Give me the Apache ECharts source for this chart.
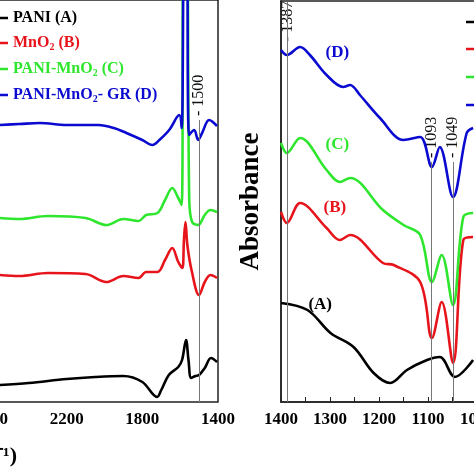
<!DOCTYPE html>
<html><head><meta charset="utf-8">
<script src="https://cdn.jsdelivr.net/npm/echarts@6/dist/echarts.min.js"></script>
<style>html,body{margin:0;padding:0;background:#fff}#c{width:474px;height:474px}</style>
</head><body><div id="c"></div>
<script>
// Left panel (2600-1400 cm-1): [wavenumber, offset absorbance (plot units, larger = lower)]
const leftA = [[2553,385],[2400,383],[2200,379],[2050,377],[1900,376],[1800,382],[1722,397],[1700,390],[1660,375],[1610,367],[1590,360],[1569,340],[1556,360],[1542,378],[1520,376],[1500,375],[1470,368],[1437,358],[1405,362]];
const leftB = [[2553,275],[2450,276],[2300,273],[2100,274],[1990,282],[1900,276],[1820,278],[1780,272],[1720,272],[1680,260],[1642,248],[1610,262],[1589,268],[1580,240],[1572,222],[1562,245],[1540,270],[1500,295],[1470,282],[1440,275],[1405,278]];
const leftC = [[2553,218],[2450,219],[2300,216],[2100,218],[1990,225],[1900,219],[1820,221],[1780,215],[1720,213],[1680,200],[1642,188],[1610,198],[1592,205],[1582,-60],[1565,-60],[1552,200],[1537,222],[1505,225],[1470,215],[1440,210],[1405,212]];
const leftD = [[2553,125],[2450,124],[2342,123],[2200,125],[2032,125],[1950,128],[1884,133],[1800,140],[1747,145],[1710,140],[1658,130],[1605,115],[1592,128],[1578,-60],[1565,-60],[1553,135],[1526,130],[1505,140],[1484,133],[1447,120],[1405,126]];
// Right panel (1400-1000 cm-1)
const rightA = [[1400,303],[1346,310],[1299,333],[1252,347],[1211,373],[1177,383],[1143,370],[1102,360],[1076,357],[1045,377],[1008,360]];
const rightB = [[1400,212],[1388,223],[1361,203],[1307,228],[1280,240],[1259,235],[1192,263],[1170,265],[1116,282],[1092,338],[1072,302],[1049,363],[1028,240],[1008,237]];
const rightC = [[1400,143],[1388,153],[1361,138],[1307,170],[1280,182],[1259,178],[1192,210],[1150,225],[1116,235],[1092,282],[1072,255],[1049,305],[1028,217],[1008,213]];
const rightD = [[1400,50],[1388,55],[1361,47],[1341,55],[1307,75],[1273,87],[1259,85],[1239,95],[1198,118],[1150,140],[1116,137],[1092,167],[1076,147],[1049,197],[1021,133],[1008,128]];
const names = ['PANI (A)','MnO2 (B)','PANI-MnO2 (C)','PANI-MnO2- GR (D)'];
const colors = ['#000000','#e8141c','#2ee62e','#0a0ad0'];
// [wavenumber, line top, label bottom, text]
const peaksLeft = [[1500,120,116,'- 1500']];
const peaksRight = [[1387,2,42,'- 1387'],[1093,162,158,'- 1093'],[1049,162,158,'- 1049']];
const curveTags = [['(A)',1320,305],['(B)',1290,208],['(C)',1285,145],['(D)',1285,53]];
const leftTicks = [2600,2200,1800,1400];

const ch = echarts.init(document.getElementById('c'));
const F = 'Liberation Serif';
const lineS = (name,data,ax,i)=>({name,type:'line',xAxisIndex:ax,yAxisIndex:ax,data,smooth:0.35,showSymbol:false,lineStyle:{color:colors[i],width:2.6},itemStyle:{color:colors[i]},clip:true,z:3});
const rich = {s:{fontSize:10,fontWeight:'bold',fontFamily:F,padding:[8,0,0,0]}};
const fmt = n=>n.replace(/MnO2/g,'MnO{s|2}');
const series = [
 lineS(names[0],leftA,0,0),lineS(names[1],leftB,0,1),lineS(names[2],leftC,0,2),lineS(names[3],leftD,0,3),
 lineS(names[0],rightA,1,0),lineS(names[1],rightB,1,1),lineS(names[2],rightC,1,2),lineS(names[3],rightD,1,3)
];
series.push({type:'line',xAxisIndex:0,yAxisIndex:0,data:[],markLine:{silent:true,symbol:'none',label:{show:false},lineStyle:{color:'#777',width:1,type:'solid'},data:peaksLeft.map(p=>[{coord:[p[0],p[1]]},{coord:[p[0],402]}])}});
series.push({type:'line',xAxisIndex:1,yAxisIndex:1,data:[],markLine:{silent:true,symbol:'none',label:{show:false},lineStyle:{color:'#777',width:1,type:'solid'},data:peaksRight.map(p=>[{coord:[p[0],p[1]]},{coord:[p[0],402]}])}});
const axLab = {fontFamily:F,fontWeight:'bold',fontSize:17,color:'#000',margin:9};
ch.setOption({
 animation:false,
 grid:[{left:-9,width:227,top:-2,bottom:72,show:true,borderColor:'#222',borderWidth:1.5,outerBoundsMode:'none',containLabel:false},
       {left:281,width:196,top:1,bottom:72,show:true,borderColor:'#222',borderWidth:1.5,outerBoundsMode:'none',containLabel:false}],
 xAxis:[{type:'value',gridIndex:0,inverse:true,min:1400,max:2600,interval:100,splitLine:{show:false},
         axisLine:{lineStyle:{color:'#222',width:1.5}},axisTick:{inside:true,length:5,lineStyle:{color:'#222'}},
         axisLabel:Object.assign({},axLab,{formatter:v=>leftTicks.includes(v)?String(v):''})},
        {type:'value',gridIndex:1,inverse:true,min:1000,max:1400,interval:50,splitLine:{show:false},
         axisLine:{lineStyle:{color:'#222',width:1.5}},axisTick:{inside:true,length:5,lineStyle:{color:'#222'}},
         axisLabel:Object.assign({},axLab,{formatter:v=>v%100===0?String(v):''})}],
 yAxis:[{type:'value',gridIndex:0,inverse:true,min:-2,max:402,show:false},
        {type:'value',gridIndex:1,inverse:true,min:1,max:402,axisLine:{show:true,lineStyle:{color:'#222',width:1.5}},axisTick:{show:false},axisLabel:{show:false},splitLine:{show:false},
         name:'Absorbance',nameLocation:'middle',nameGap:16,nameTextStyle:{fontFamily:F,fontWeight:'bold',fontSize:27,color:'#000'}}],
 legend:[{orient:'vertical',left:-22,top:5,itemWidth:25,itemHeight:15,itemGap:9,icon:'path://M0,6H25V8.5H0Z',
          data:names.map((n,i)=>({name:n,textStyle:{color:colors[i]}})),formatter:fmt,
          textStyle:{fontFamily:F,fontWeight:'bold',fontSize:16,rich}},
         {orient:'vertical',left:461,top:9,itemWidth:25,itemHeight:15,itemGap:11,icon:'path://M0,6H25V8.5H0Z',
          data:names,formatter:fmt,textStyle:{fontFamily:F,fontWeight:'bold',fontSize:16,color:'#000',rich}}],
 series
});
const g = [];
const addPk=(p,gi)=>{const q=ch.convertToPixel({gridIndex:gi},[p[0],p[2]]);g.push({type:'text',x:q[0]-8,y:q[1],rotation:Math.PI/2,style:{text:p[3],fontFamily:F,fontSize:16,fill:'#111',align:'left',verticalAlign:'top'}});};
peaksLeft.forEach(p=>addPk(p,0));
peaksRight.forEach(p=>addPk(p,1));
curveTags.forEach((t,i)=>{const q=ch.convertToPixel({gridIndex:1},[t[1],t[2]]);g.push({type:'text',x:q[0],y:q[1],style:{text:t[0],fontFamily:F,fontWeight:'bold',fontSize:17,fill:colors[i],align:'center',verticalAlign:'middle'}});});
g.push({type:'text',x:17,y:456,style:{text:'Wavenumber (cm\u207B\u00B9)',fontFamily:F,fontWeight:'bold',fontSize:22,fill:'#000',align:'right',verticalAlign:'middle'}});
ch.setOption({graphic:g});
</script></body></html>
